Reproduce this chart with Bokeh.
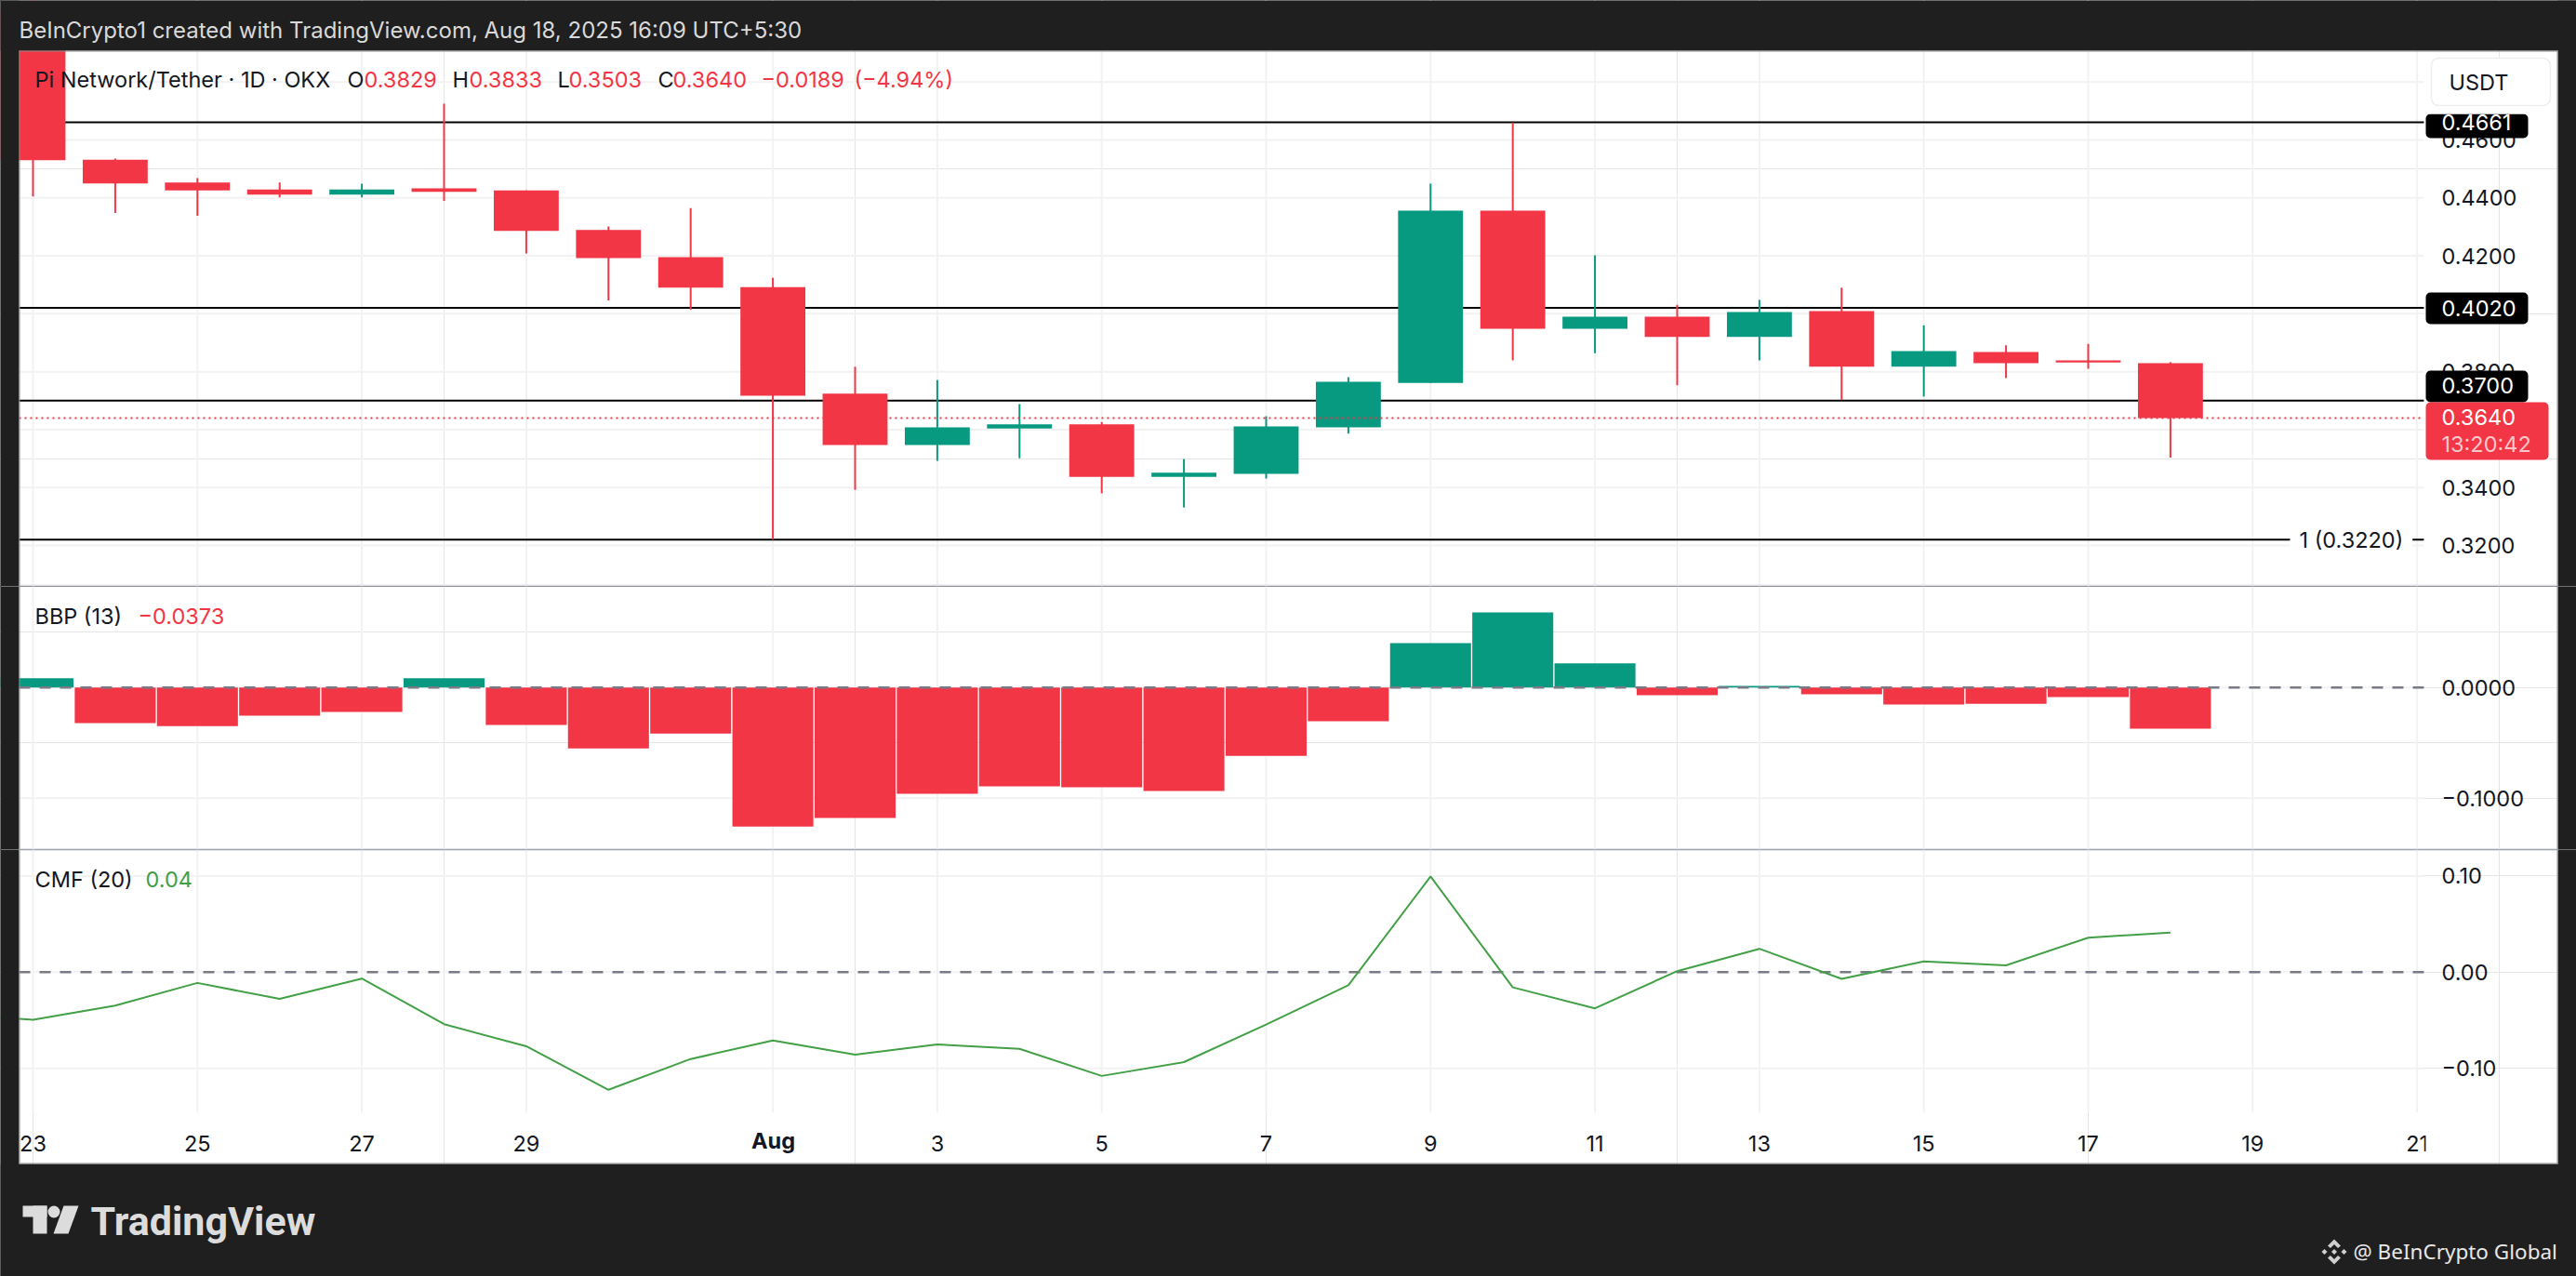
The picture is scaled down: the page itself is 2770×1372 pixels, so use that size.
from bokeh.plotting import figure
from bokeh.layouts import column
from bokeh.models import (BoxAnnotation, ColumnDataSource, FixedTicker, GlobalInlineStyleSheet,
                          Label, LinearAxis, PolyAnnotation, Range1d)
from bokeh.embed import file_html
from bokeh.resources import INLINE

# ---------- data ----------
days = list(range(27))   # 0 = 23 Jul ... 26 = 18 Aug
opens = [0.5050, 0.4532, 0.4453, 0.4429, 0.4411, 0.4433, 0.4426, 0.4289, 0.4195, 0.4092, 0.3724, 0.3547, 0.3604,
         0.3618, 0.3437, 0.3447, 0.3608, 0.3761, 0.4356, 0.3948, 0.3990, 0.3920, 0.4009, 0.3817, 0.3868, 0.3839, 0.3829]
highs = [0.5100, 0.4536, 0.4468, 0.4453, 0.4449, 0.4725, 0.4426, 0.4301, 0.4365, 0.4124, 0.3817, 0.3771, 0.3688,
         0.3626, 0.3498, 0.3646, 0.3781, 0.4449, 0.4660, 0.4202, 0.4031, 0.4048, 0.4090, 0.3960, 0.3891, 0.3896, 0.3833]
lows = [0.4405, 0.4348, 0.4338, 0.4402, 0.4402, 0.4390, 0.4208, 0.4046, 0.4014, 0.3220, 0.3392, 0.3492, 0.3501,
        0.3380, 0.3331, 0.3431, 0.3586, 0.3761, 0.3839, 0.3864, 0.3753, 0.3839, 0.3702, 0.3714, 0.3778, 0.3810, 0.3503]
closes = [0.4530, 0.4450, 0.4426, 0.4411, 0.4429, 0.4421, 0.4286, 0.4192, 0.4090, 0.3717, 0.3547, 0.3608, 0.3618,
          0.3437, 0.3451, 0.3611, 0.3765, 0.4356, 0.3948, 0.3990, 0.3920, 0.4006, 0.3817, 0.3871, 0.3829, 0.3832, 0.3640]
bbp = [0.0083, -0.0321, -0.0349, -0.0254, -0.0220, 0.0083, -0.0339, -0.0550, -0.0416, -0.1257, -0.1180, -0.0960,
       -0.0893, -0.0902, -0.0936, -0.0618, -0.0306, 0.0401, 0.0679, 0.0217, -0.0070, 0.0015, -0.0061, -0.0153,
       -0.0147, -0.0086, -0.0373]
cmf_days = list(range(-1, 27))
cmf = [-0.0432, -0.0496, -0.0348, -0.0112, -0.0278, -0.0067, -0.0541, -0.0770, -0.1223, -0.0903, -0.0710, -0.0858,
       -0.0752, -0.0798, -0.1079, -0.0935, -0.0545, -0.0137, 0.0995, -0.0158, -0.0376, 0.0011, 0.0243, -0.0070,
       0.0112, 0.0070, 0.0359, 0.0411]
levels = [0.4661, 0.4020, 0.3700, 0.3220]
last_price = 0.3640
price_ticks = [0.32, 0.34, 0.36, 0.38, 0.40, 0.42, 0.44, 0.46, 0.48]
bbp_ticks = [-0.1, 0.0]
cmf_ticks = [-0.1, 0.0, 0.1]
date_ticks = [0, 2, 4, 6, 9, 11, 13, 15, 17, 19, 21, 23, 25, 27, 29]
date_labels = ["23", "25", "27", "29", "", "3", "5", "7", "9", "11", "13", "15", "17", "19", "21"]

# ---------- styles ----------
RED, GREEN, CMF_GREEN = "#F23645", "#089981", "#43A047"
DARK, INK, GRID, SEP, GREY = "#1f1f1f", "#131722", "#f2f2f3", "#e0e3eb", "#787b86"
FONT = "Inter"
FS = "23.5px"
W = 2770
X_RANGE = Range1d(-0.39593, 30.939)   # whole canvas width
XL, XR = -0.1697, 29.083              # plotting area inside it


def make_fig(top, bottom, y0, y1):
    return figure(width=W, height=bottom - top, x_range=X_RANGE, y_range=Range1d(y0, y1), output_backend="svg",
                  toolbar_location=None, x_axis_location=None, y_axis_location=None,
                  min_border_left=0, min_border_right=0, min_border_top=0, min_border_bottom=0,
                  border_fill_color=DARK, background_fill_color="white", outline_line_color=None)


def box(p, x0, y0, x1, y1, color, line=None, radius=0):
    """Decoration in page pixels; the figure's canvas y runs down from its own top."""
    top = REFS[p]
    p.add_layout(BoxAnnotation(left=x0, right=x1, top=y0 - top, bottom=y1 - top,
                               left_units="canvas", right_units="canvas", top_units="canvas", bottom_units="canvas",
                               fill_color=color, fill_alpha=1, line_color=line, line_width=1.5 if line else 0,
                               line_alpha=1 if line else 0, border_radius=radius))


def poly(p, pts, color):
    top = REFS[p]
    p.add_layout(PolyAnnotation(xs=[a for a, _ in pts], ys=[b - top for _, b in pts], xs_units="canvas",
                                ys_units="canvas", fill_color=color, fill_alpha=1, line_color=None))


def text(p, x, y, s, color=INK, size=FS, align="left", weight="normal", font=FONT):
    top = REFS[p]
    p.add_layout(Label(x=x, y=y - top, x_units="canvas", y_units="canvas", text=s, text_color=color,
                       text_font=font, text_font_size=size, text_align=align, text_baseline="middle",
                       text_font_style=weight))


def grid(p, yticks, ybot, ytop):
    p.segment(date_ticks, [ybot] * len(date_ticks), date_ticks, [ytop] * len(date_ticks),
              line_color=GRID, line_width=2)
    p.segment([XL] * len(yticks), yticks, [XR] * len(yticks), yticks, line_color=GRID, line_width=2)


def hline(p, value, **kw):
    p.line([XL, XR], [value, value], **kw)


def price_axis(p, ticks, overrides):
    p.add_layout(LinearAxis(ticker=FixedTicker(ticks=ticks), major_label_overrides=overrides, fixed_location=XR,
                            axis_line_color=None, major_tick_line_color=None, minor_tick_line_color=None,
                            major_label_standoff=13, major_label_text_font=FONT, major_label_text_font_size=FS,
                            major_label_text_color=INK), "right")


# ---------- panes (each y range spans its figure's whole canvas height) ----------
p1 = make_fig(0, 630, 0.30586, 0.50817)
p2 = make_fig(630, 913, -0.14647, 0.09134)
p3 = make_fig(913, 1372, -0.31644, 0.12747)
REFS = {p1: 0, p2: 630, p3: 913}
P3_BOTTOM = -0.14623

grid(p1, price_ticks, 0.30586, 0.50817)
grid(p2, bbp_ticks, -0.14647, 0.09134)
grid(p3, cmf_ticks, P3_BOTTOM, 0.12747)

price_axis(p1, price_ticks, {t: f"{t:.4f}" for t in price_ticks})
price_axis(p2, bbp_ticks, {t: f"{t:.4f}".replace("-", "\u2212") for t in bbp_ticks})
price_axis(p3, cmf_ticks, {t: f"{t:.2f}".replace("-", "\u2212") for t in cmf_ticks})
p3.add_layout(LinearAxis(ticker=FixedTicker(ticks=date_ticks), major_label_overrides=dict(zip(date_ticks, date_labels)),
                         fixed_location=P3_BOTTOM, axis_line_color=None, major_tick_line_color=None,
                         minor_tick_line_color=None, major_label_standoff=18, major_label_text_font=FONT,
                         major_label_text_font_size=FS, major_label_text_color=INK), "below")

# price pane
for lv in levels:
    hline(p1, lv, line_color="black", line_width=2)
colors = [GREEN if c > o else RED for o, c in zip(opens, closes)]
src = ColumnDataSource(dict(x=days, o=opens, h=highs, l=lows, c=closes, color=colors))
p1.segment("x", "h", "x", "l", source=src, line_color="color", line_width=2)
p1.vbar(x="x", top="o", bottom="c", width=0.79, source=src, fill_color="color", line_color=None)
hline(p1, last_price, line_color=RED, line_width=2, line_dash=[2, 4])

# BBP
p2.vbar(x=days, top=bbp, bottom=0, width=0.985, fill_color=[GREEN if v > 0 else RED for v in bbp], line_color=None)
hline(p2, 0, line_color=GREY, line_width=2.5, line_dash=[12, 10])

# CMF
hline(p3, 0, line_color=GREY, line_width=2.5, line_dash=[12, 10])
p3.line(cmf_days, cmf, line_color=CMF_GREEN, line_width=2)

# dark surround over the canvas edges
box(p1, 0, 0, 2770, 54, DARK)
for p, a, b in ((p1, 0, 630), (p2, 630, 913), (p3, 913, 1372)):
    box(p, 0, a, 20, b, DARK)
    box(p, 2750, a, 2770, b, DARK)
box(p3, 0, 1251, 2770, 1372, DARK)

# pane separators and frame
box(p1, 20, 628, 2750, 630, SEP)
box(p2, 20, 911.5, 2750, 913, SEP)
box(p3, 20, 913, 2750, 914.5, SEP)
box(p1, 20, 54, 2750, 55, "#8a8a8a")
box(p3, 20, 1250, 2750, 1251, "#8a8a8a")
for p, a, b in ((p1, 54, 630), (p2, 630, 913), (p3, 913, 1251)):
    box(p, 20, a, 21, b, "#8a8a8a")
    box(p, 2749, a, 2750, b, "#8a8a8a")

# right-hand price flags
box(p1, 2614, 62, 2742, 113, "white", line="#eeeef0", radius=8)
text(p1, 2633, 88, "USDT")
box(p1, 2608, 122, 2718, 148, "black", radius=5)
text(p1, 2625, 131, "0.4661", "white")
box(p1, 2608, 113.5, 2718, 122, "white")
box(p1, 2608, 314, 2718, 348, "black", radius=5)
text(p1, 2625, 331, "0.4020", "white")
box(p1, 2608, 398, 2718, 432, "black", radius=5)
text(p1, 2625, 414, "0.3700", "white")
box(p1, 2608, 432, 2740, 494, RED, radius=5)
text(p1, 2625, 448, "0.3640", "white")
text(p1, 2625, 477, "13:20:42", "#fcc6cb")
p1.add_layout(Label(x=28.2, y=levels[3], text="1 (0.3220)", text_color=INK, text_font=FONT, text_font_size=FS,
                    text_align="center", text_baseline="middle", background_fill_color="white",
                    background_fill_alpha=1, padding=10))

# legends
text(p1, 37, 85, "Pi Network/Tether \u00b7 1D \u00b7 OKX")
for x, s, c in ((373, "O", INK), (391, "0.3829", RED), (486, "H", INK), (504, "0.3833", RED), (599, "L", INK),
                (611, "0.3503", RED), (707, "C", INK), (723, "0.3640", RED), (818, "\u22120.0189", RED),
                (918, "(\u22124.94%)", RED)):
    text(p1, x, 85, s, c)
text(p2, 37, 662, "BBP (13)")
text(p2, 148, 662, "\u22120.0373", RED)
text(p3, 37, 945, "CMF (20)")
text(p3, 156, 945, "0.04", CMF_GREEN)

# header and footer
text(p1, 20, 32, "BeInCrypto1 created with TradingView.com, Aug 18, 2025 16:09 UTC+5:30", "#d9d9d9", size="24px")
text(p3, 831, 1226, "Aug", INK, align="center", weight="bold")
box(p3, 2608, 1208, 2618, 1244, "white")
text(p3, 97, 1312, "TradingView", "#dcdcdc", size="43px", font="Roboto", weight="bold")
LOGO = "#dcdcdc"
box(p3, 24, 1296, 50, 1308, LOGO)
box(p3, 35, 1296, 50, 1326, LOGO)
box(p3, 51, 1296, 64, 1309, LOGO, radius=7)
poly(p3, [(68, 1296), (84, 1296), (73, 1326), (57, 1326)], LOGO)
text(p3, 2530, 1345, "@ BeInCrypto Global", "#e8e8e8", size="22.5px", font="Noto Sans")
ICON = "#d0d0d0"
cx, cy = 2509.5, 1345.5
poly(p3, [(cx, cy - 13.5), (cx + 7, cy - 6.5), (cx + 4, cy - 4), (cx, cy - 8), (cx - 4, cy - 4), (cx - 7, cy - 6.5)], ICON)
poly(p3, [(cx, cy + 13.5), (cx + 7, cy + 6.5), (cx + 4, cy + 4), (cx, cy + 8), (cx - 4, cy + 4), (cx - 7, cy + 6.5)], ICON)
poly(p3, [(cx - 13.5, cy), (cx - 10.5, cy - 3), (cx - 7.5, cy), (cx - 10.5, cy + 3)], ICON)
poly(p3, [(cx + 13.5, cy), (cx + 10.5, cy - 3), (cx + 7.5, cy), (cx + 10.5, cy + 3)], ICON)
poly(p3, [(cx, cy - 3), (cx + 3, cy), (cx, cy + 3), (cx - 3, cy)], ICON)

page = column(p1, p2, p3, spacing=0,
              stylesheets=[GlobalInlineStyleSheet(css="html,body{background:#1f1f1f;}")])
open("out.html", "w").write(file_html(page, INLINE))
